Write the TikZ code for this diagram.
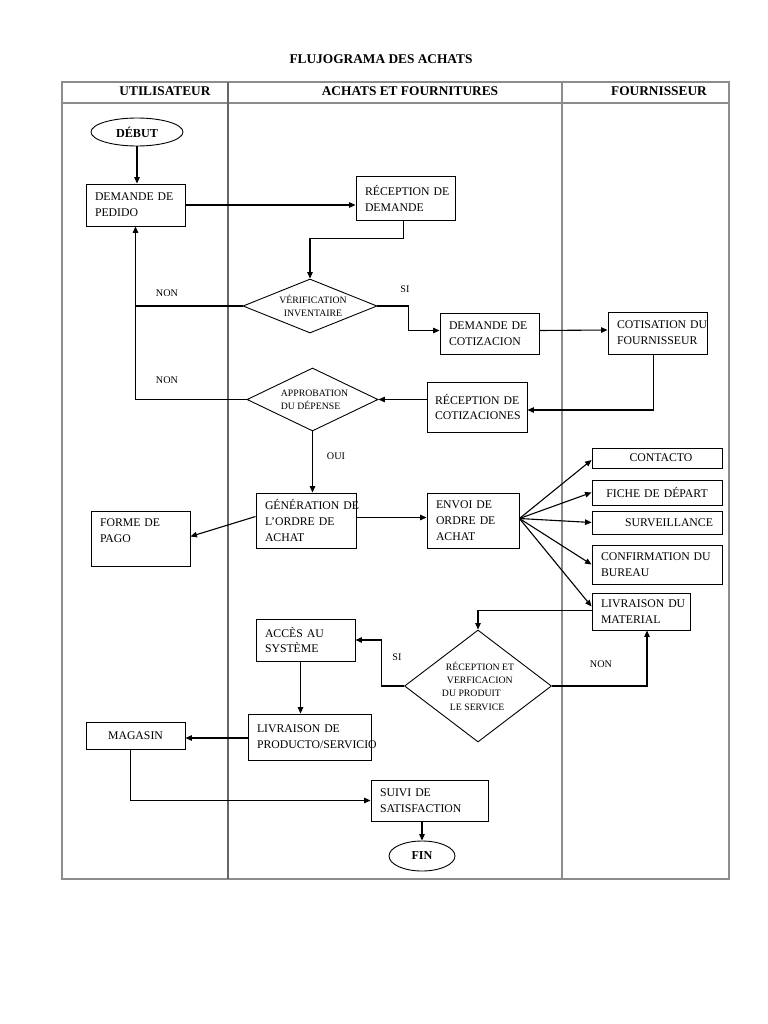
\documentclass[tikz,border=0pt]{standalone}
\usepackage{fontspec}
\setmainfont{Liberation Serif}
\usetikzlibrary{arrows.meta,shapes.geometric}
\hyphenpenalty=10000
\exhyphenpenalty=10000
\newcommand\hdfont{\fontsize{13.4}{15}\selectfont\bfseries}
\newcommand\trfont{\fontsize{12.2}{15}\selectfont\bfseries}
\newcommand\bxfont{\fontsize{11.8}{16}\selectfont}
\newcommand\dmfont{\fontsize{9.8}{13.4}\selectfont}
\newcommand\lbfont{\fontsize{10.2}{12}\selectfont}
\begin{document}
\begin{tikzpicture}[x=1bp,y=-1bp,
  tbl/.style={line width=1.3bp, draw=black!45},
  tblcol/.style={line width=1.3bp, draw=black!60},
  box/.style={draw, line width=0.9bp, rectangle, inner xsep=9bp, inner ysep=0bp, align=left, font=\bxfont},
  cbox/.style={box, align=center},
  rbox/.style={box, align=right},
  term/.style={draw, line width=0.9bp, ellipse, inner sep=0bp, font=\trfont},
  dec/.style={draw, line width=0.9bp, diamond, inner sep=0bp, font=\dmfont},
  lbl/.style={font=\lbfont, inner sep=0bp},
  head/.style={font=\hdfont, inner sep=0bp},
  arr/.style={line width=1.1bp, -{Triangle[length=6.5bp,width=5.5bp]}},
  ln/.style={line width=1.1bp}
]
\useasboundingbox (0,0) rectangle (768,1024);
\fill[white] (0,0) rectangle (768,1024);

% table
\draw[tbl] (62,82) rectangle (729,879);
\draw[tbl] (62,103) -- (729,103);
\draw[tblcol] (228,82) -- (228,879);
\draw[tbl] (562,82) -- (562,879);

\node[head] (title) at (381,59) {FLUJOGRAMA DES ACHATS};
\node[head] (h1) at (165,91) {UTILISATEUR};
\node[head] (h2) at (410,91) {ACHATS ET FOURNITURES};
\node[head] (h3) at (659,91) {FOURNISSEUR};

% nodes
\node[term, minimum width=92bp, minimum height=28bp] (debut) at (137,132) {DÉBUT};
\node[box, text width=81bp, minimum height=42bp] (pedido) at (135.5,205) {DEMANDE~DE\\PEDIDO};
\node[box, text width=81bp, minimum height=44bp] (recdem) at (405.5,198) {RÉCEPTION~DE\\DEMANDE};
\node[dec, aspect=2.5, minimum width=134bp, minimum height=54bp, align=center] (verif) at (310,306) {\hspace*{6bp}VÉRIFICATION\\\hspace*{6bp}INVENTAIRE};
\node[box, text width=81bp, minimum height=41bp] (demcot) at (489.5,333.5) {DEMANDE~DE\\COTIZACION};
\node[box, text width=81bp, minimum height=42bp] (cotfour) at (657.5,333) {COTISATION~DU\\FOURNISSEUR};
\node[box, inner xsep=8bp, text width=84bp, minimum height=50bp] (reccot) at (477,407) {RÉCEPTION~DE\\COTIZACIONES};
\node[dec, aspect=2.08, minimum width=131bp, minimum height=63bp, align=left] (approb) at (312.5,399.5) {\hspace*{4bp}APPROBATION\\\hspace*{4bp}DU~DÉPENSE};
\node[box, text width=82bp, minimum height=55bp] (gen) at (306,520.5) {GÉNÉRATION~DE\\L'ORDRE~DE\\ACHAT};
\node[box, text width=81bp, minimum height=55bp] (pago) at (140.5,538.5) {FORME~DE\\PAGO\\~};
\node[box, text width=74bp, minimum height=55bp] (envoi) at (473,520.5) {ENVOI~DE\\ORDRE~DE\\ACHAT};
\node[cbox, text width=112bp, minimum height=20bp] (contacto) at (657,458) {\hspace*{8bp}CONTACTO};
\node[cbox, text width=112bp, minimum height=25bp] (fiche) at (657,492.5) {FICHE~DE~DÉPART};
\node[rbox, text width=112bp, minimum height=23bp] (surv) at (657,522.5) {SURVEILLANCE};
\node[box, text width=112bp, minimum height=39bp] (confirm) at (657,564.5) {CONFIRMATION~DU\\BUREAU};
\node[box, text width=80bp, minimum height=37bp] (livmat) at (641,611.5) {LIVRAISON~DU\\MATERIAL};
\node[box, text width=81bp, minimum height=42bp] (acces) at (305.5,640) {ACCÈS~AU\\SYSTÈME};
\node[dec, aspect=1.31, minimum width=147bp, minimum height=112bp, align=left] (recver) at (478,686) {\hspace*{4bp}RÉCEPTION~ET\\\hspace*{5bp}VERFICACION\\DU~PRODUIT\\\hspace*{8bp}LE~SERVICE};
\node[box, text width=105bp, minimum height=46bp] (livprod) at (309.5,737) {LIVRAISON~DE\\PRODUCTO/SERVICIO};
\node[cbox, text width=81bp, minimum height=27bp] (magasin) at (135.5,735.5) {MAGASIN};
\node[box, text width=99bp, minimum height=41bp] (suivi) at (429.5,800.5) {SUIVI~DE\\SATISFACTION};
\node[term, minimum width=66bp, minimum height=30bp] (fin) at (422,856) {FIN};

% labels
\node[lbl] (non1) at (167,293) {NON};
\node[lbl] (non2) at (167,380) {NON};
\node[lbl] (si1) at (405,289) {SI};
\node[lbl] (oui) at (336,456) {OUI};
\node[lbl] (si2) at (397,657) {SI};
\node[lbl] (non3) at (601,664) {NON};

% connectors
\draw[arr] (debut.south) -- (debut.south |- pedido.north);
\draw[arr] (pedido.east) -- (recdem.west |- pedido.east);
\draw[arr] ([xshift=-2bp]recdem.south) -- ++(0,18) -| (verif.north);
\draw[arr] (verif.west) -| (pedido.south);
\draw[ln] (approb.west) -| (pedido.south |- verif.west);
\draw[arr] (verif.east) -- ++(31,0) |- ([yshift=3bp]demcot.west);
\draw[arr] ([yshift=3bp]demcot.east) -- ([yshift=3bp]cotfour.west);
\draw[arr] ([xshift=-4bp]cotfour.south) |- ([yshift=-3bp]reccot.east);
\draw[arr] (reccot.west |- approb.east) -- (approb.east);
\draw[arr] (approb.south) -- (approb.south |- gen.north);
\draw[arr] ([yshift=4bp]gen.west) -- ([yshift=2bp]pago.east);
\draw[arr] ([yshift=3bp]gen.east) -- ([yshift=3bp]envoi.west);
\draw[arr] ([yshift=2bp]envoi.east) -- ([yshift=-2bp]contacto.west);
\draw[arr] ([yshift=2bp]envoi.east) -- (fiche.west);
\draw[arr] ([yshift=2bp]envoi.east) -- (surv.west);
\draw[arr] ([yshift=2bp]envoi.east) -- (confirm.west);
\draw[arr] ([yshift=2bp]envoi.east) -- ([yshift=5bp]livmat.west);
\draw[arr] ([yshift=1bp]livmat.west) -| (recver.north);
\draw[arr] (recver.east) -| ([xshift=6bp]livmat.south);
\draw[arr] (recver.west) -- ++(-23,0) |- (acces.east);
\draw[arr] ([xshift=-5bp]acces.south) -- ([xshift=-5bp]acces.south |- livprod.north);
\draw[arr] ([yshift=-1bp]livprod.west) -- ([yshift=-1bp]livprod.west -| magasin.east);
\draw[arr] ([xshift=-5bp]magasin.south) |- (suivi.west);
\draw[arr] (fin.north |- suivi.south) -- (fin.north);
\end{tikzpicture}
\end{document}
